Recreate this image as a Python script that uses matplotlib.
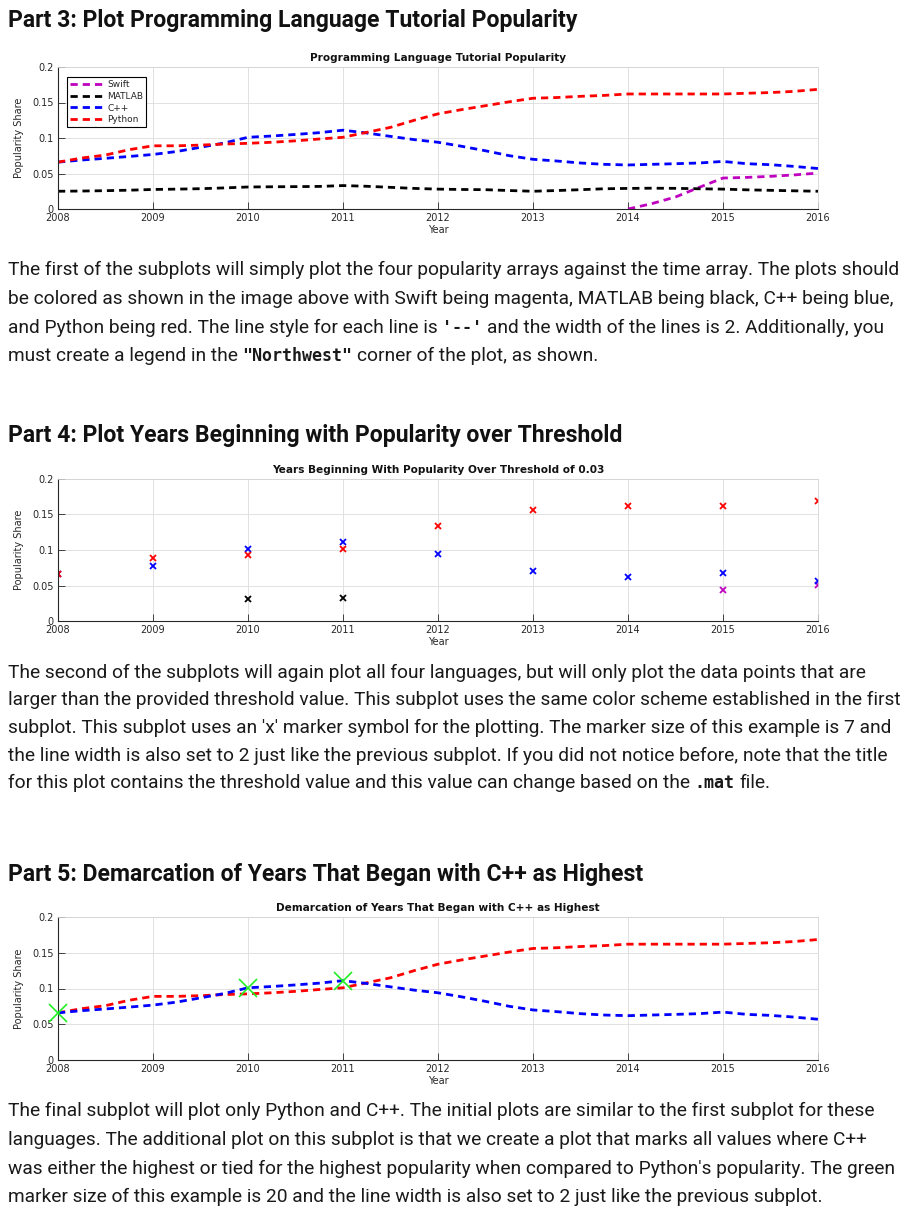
"""
Recreates the assignment page with the three popularity subplots
(Parts 3-5) and the explanatory text between them.
"""
import numpy as np
import matplotlib
matplotlib.use('Agg')
import matplotlib.pyplot as plt

# ---- data -----------------------------------------------------------------
# time array (quarter-year steps) and the four popularity arrays
time = np.arange(2008, 2016.01, 0.25)
python = [0.066, 0.0718, 0.076, 0.0836,
          0.089, 0.089, 0.090, 0.0915,
          0.0925, 0.094, 0.096, 0.0986,
          0.101, 0.108, 0.115, 0.125,
          0.134, 0.140, 0.1455, 0.151,
          0.156, 0.157, 0.1587, 0.160,
          0.162, 0.162, 0.162, 0.162,
          0.162, 0.163, 0.164, 0.1657,
          0.1685]
cpp = [0.066, 0.069, 0.0714, 0.074,
       0.0768, 0.081, 0.0869, 0.093,
       0.101, 0.1028, 0.105, 0.1075,
       0.111, 0.107, 0.1023, 0.0977,
       0.094, 0.0883, 0.082, 0.0751,
       0.070, 0.0676, 0.0648, 0.0629,
       0.062, 0.0629, 0.0638, 0.0648,
       0.067, 0.0638, 0.0624, 0.060,
       0.057]
matlab = [0.025, 0.0253, 0.0258, 0.0265,
          0.0275, 0.028, 0.0286, 0.0297,
          0.031, 0.0313, 0.0315, 0.0318,
          0.033, 0.032, 0.0305, 0.029,
          0.028, 0.0275, 0.0272, 0.026,
          0.025, 0.026, 0.0272, 0.0285,
          0.029, 0.0293, 0.0291, 0.0285,
          0.028, 0.027, 0.0263, 0.0256,
          0.025]
nan = float('nan')
swift = [nan] * 24 + [0.0, 0.0075, 0.0169, 0.0305,
                      0.0436, 0.0445, 0.046, 0.048,
                      0.0506]

languages = ['Swift', 'MATLAB', 'C++', 'Python']
colors = ['m', 'k', 'b', 'r']
threshold = 0.03

year_ticks = [2008, 2009, 2010, 2011, 2012, 2013, 2014, 2015, 2016]
y_ticks = [0, 0.05, 0.1, 0.15, 0.2]
y_tick_labels = ['0', '0.05', '0.1', '0.15', '0.2']

# ---- page text --------------------------------------------------------------
headings = ['Part 3: Plot Programming Language Tutorial Popularity',
            'Part 4: Plot Years Beginning with Popularity over Threshold',
            'Part 5: Demarcation of Years That Began with C++ as Highest']

para1 = [
    [('The first of the subplots will simply plot the four popularity arrays against the time array. The plots should', 'body')],
    [('be colored as shown in the image above with Swift being magenta, MATLAB being black, C++ being blue,', 'body')],
    [('and Python being red. The line style for each line is', 'body'), ("'--'", 'code'),
     ('and the width of the lines is 2. Additionally, you', 'body')],
    [('must create a legend in the', 'body'), ('"Northwest"', 'code'),
     ('corner of the plot, as shown.', 'body')],
]
para2 = [
    [('The second of the subplots will again plot all four languages, but will only plot the data points that are', 'body')],
    [('larger than the provided threshold value. This subplot uses the same color scheme established in the first', 'body')],
    [("subplot. This subplot uses an 'x' marker symbol for the plotting. The marker size of this example is 7 and", 'body')],
    [('the line width is also set to 2 just like the previous subplot. If you did not notice before, note that the title', 'body')],
    [('for this plot contains the threshold value and this value can change based on the', 'body'), ('.mat', 'code'),
     ('file.', 'body')],
]
para3 = [
    [('The final subplot will plot only Python and C++. The initial plots are similar to the first subplot for these', 'body')],
    [('languages. The additional plot on this subplot is that we create a plot that marks all values where C++', 'body')],
    [("was either the highest or tied for the highest popularity when compared to Python's popularity. The green", 'body')],
    [('marker size of this example is 20 and the line width is also set to 2 just like the previous subplot.', 'body')],
]

# ---- page setup -------------------------------------------------------------
W, H = 924, 1224
fig = plt.figure(figsize=(W / 100, H / 100), dpi=100)
renderer = fig.canvas.get_renderer()

STYLES = {
    'body': dict(family='Roboto', fontsize=13.8, color='#1a1a1a'),
    'code': dict(family='DejaVu Sans Mono', fontsize=12, fontweight='bold', color='#1a1a1a'),
    'head': dict(family='Roboto', fontsize=16.6, fontweight='bold', color='#111111'),
}
AX_TEXT = '#262626'
DASHES = (2.6, 1.8)


def fx(x):
    return x / W


def fy(y):
    return 1 - y / H


def space_width(style):
    # width of a blank in a given font, measured as 'n n' minus 'nn'
    a = fig.text(0, 0, 'n n', **style)
    b = fig.text(0, 0, 'nn', **style)
    w = a.get_window_extent(renderer).width - b.get_window_extent(renderer).width
    a.remove()
    b.remove()
    return w


SPACE = space_width(STYLES['body'])


def write_line(x, y, runs):
    for i, (s, kind) in enumerate(runs):
        if i > 0:
            x += SPACE
        t = fig.text(fx(x), fy(y), s, va='baseline', ha='left', **STYLES[kind])
        x += t.get_window_extent(renderer).width


def write_paragraph(y0, lines, step):
    for i, runs in enumerate(lines):
        write_line(8, y0 + i * step, runs)


def make_axes(top, bottom, title):
    ax = fig.add_axes([fx(58), fy(bottom), (818 - 58) / W, (bottom - top) / H])
    ax.set_xlim(2008, 2016)
    ax.set_ylim(0, 0.2)
    ax.set_xticks(year_ticks)
    ax.set_xticklabels([str(y) for y in year_ticks])
    ax.set_yticks(y_ticks)
    ax.set_yticklabels(y_tick_labels)
    ax.grid(True, color='#dcdcdc', linewidth=0.6)
    ax.set_axisbelow(True)
    for side in ['top', 'right']:
        ax.spines[side].set_color('#d4d4d4')
        ax.spines[side].set_linewidth(0.6)
    for side in ['left', 'bottom']:
        ax.spines[side].set_color(AX_TEXT)
        ax.spines[side].set_linewidth(0.8)
    ax.tick_params(direction='in', length=5, width=0.6, colors=AX_TEXT,
                   labelsize=7, pad=3)
    ax.set_title(title, fontsize=7.6, fontweight='bold', pad=4, color='#111111')
    ax.set_xlabel('Year', fontsize=7, labelpad=1, color=AX_TEXT)
    ax.set_ylabel('Popularity Share', fontsize=7, labelpad=6, color=AX_TEXT)
    return ax


series = [swift, matlab, cpp, python]

# ---- Part 3: all four lines ---------------------------------------------------
ax1 = make_axes(67, 209, 'Programming Language Tutorial Popularity')
for name, vals, c in zip(languages, series, colors):
    ax1.plot(time, vals, color=c, linewidth=2, linestyle='--', dashes=DASHES, label=name)
leg = ax1.legend(loc='upper left', bbox_to_anchor=(0.012, 0.93), borderaxespad=0,
                 fontsize=6.5, handlelength=3.6, labelspacing=0.3, borderpad=0.35,
                 handletextpad=0.5, fancybox=False, framealpha=1)
leg.get_frame().set_edgecolor('black')
leg.get_frame().set_linewidth(0.8)
for t in leg.get_texts():
    t.set_color(AX_TEXT)

# ---- Part 4: year-start points above the threshold ----------------------------
ax2 = make_axes(479, 621, f'Years Beginning With Popularity Over Threshold of {threshold:.2f}')
is_year_start = np.isclose(time % 1, 0)
for vals, c in zip(series, colors):
    v = np.asarray(vals)
    keep = is_year_start & (v > threshold)
    ax2.plot(time[keep], v[keep], linestyle='none', marker='x', color=c,
             markersize=5, markeredgewidth=1.3)

# ---- Part 5: Python vs C++ with green marks where C++ leads -------------------
ax3 = make_axes(917, 1060, 'Demarcation of Years That Began with C++ as Highest')
ax3.plot(time, python, color='r', linewidth=2, linestyle='--', dashes=DASHES)
ax3.plot(time, cpp, color='b', linewidth=2, linestyle='--', dashes=DASHES)
c_arr = np.asarray(cpp)
lead = is_year_start & (c_arr >= np.asarray(python))
ax3.plot(time[lead], c_arr[lead], linestyle='none', marker='x', color='#22ee22',
         markersize=13, markeredgewidth=1.2, clip_on=False, zorder=5)

# ---- headings and paragraphs -------------------------------------------------
for text, base in zip(headings, [27, 442, 881]):
    fig.text(fx(8), fy(base), text, va='baseline', ha='left', **STYLES['head'])

write_paragraph(275, para1, 28.8)
write_paragraph(677.5, para2, 27.7)
write_paragraph(1116.5, para3, 28.5)

fig.savefig('out.png', dpi=100)
